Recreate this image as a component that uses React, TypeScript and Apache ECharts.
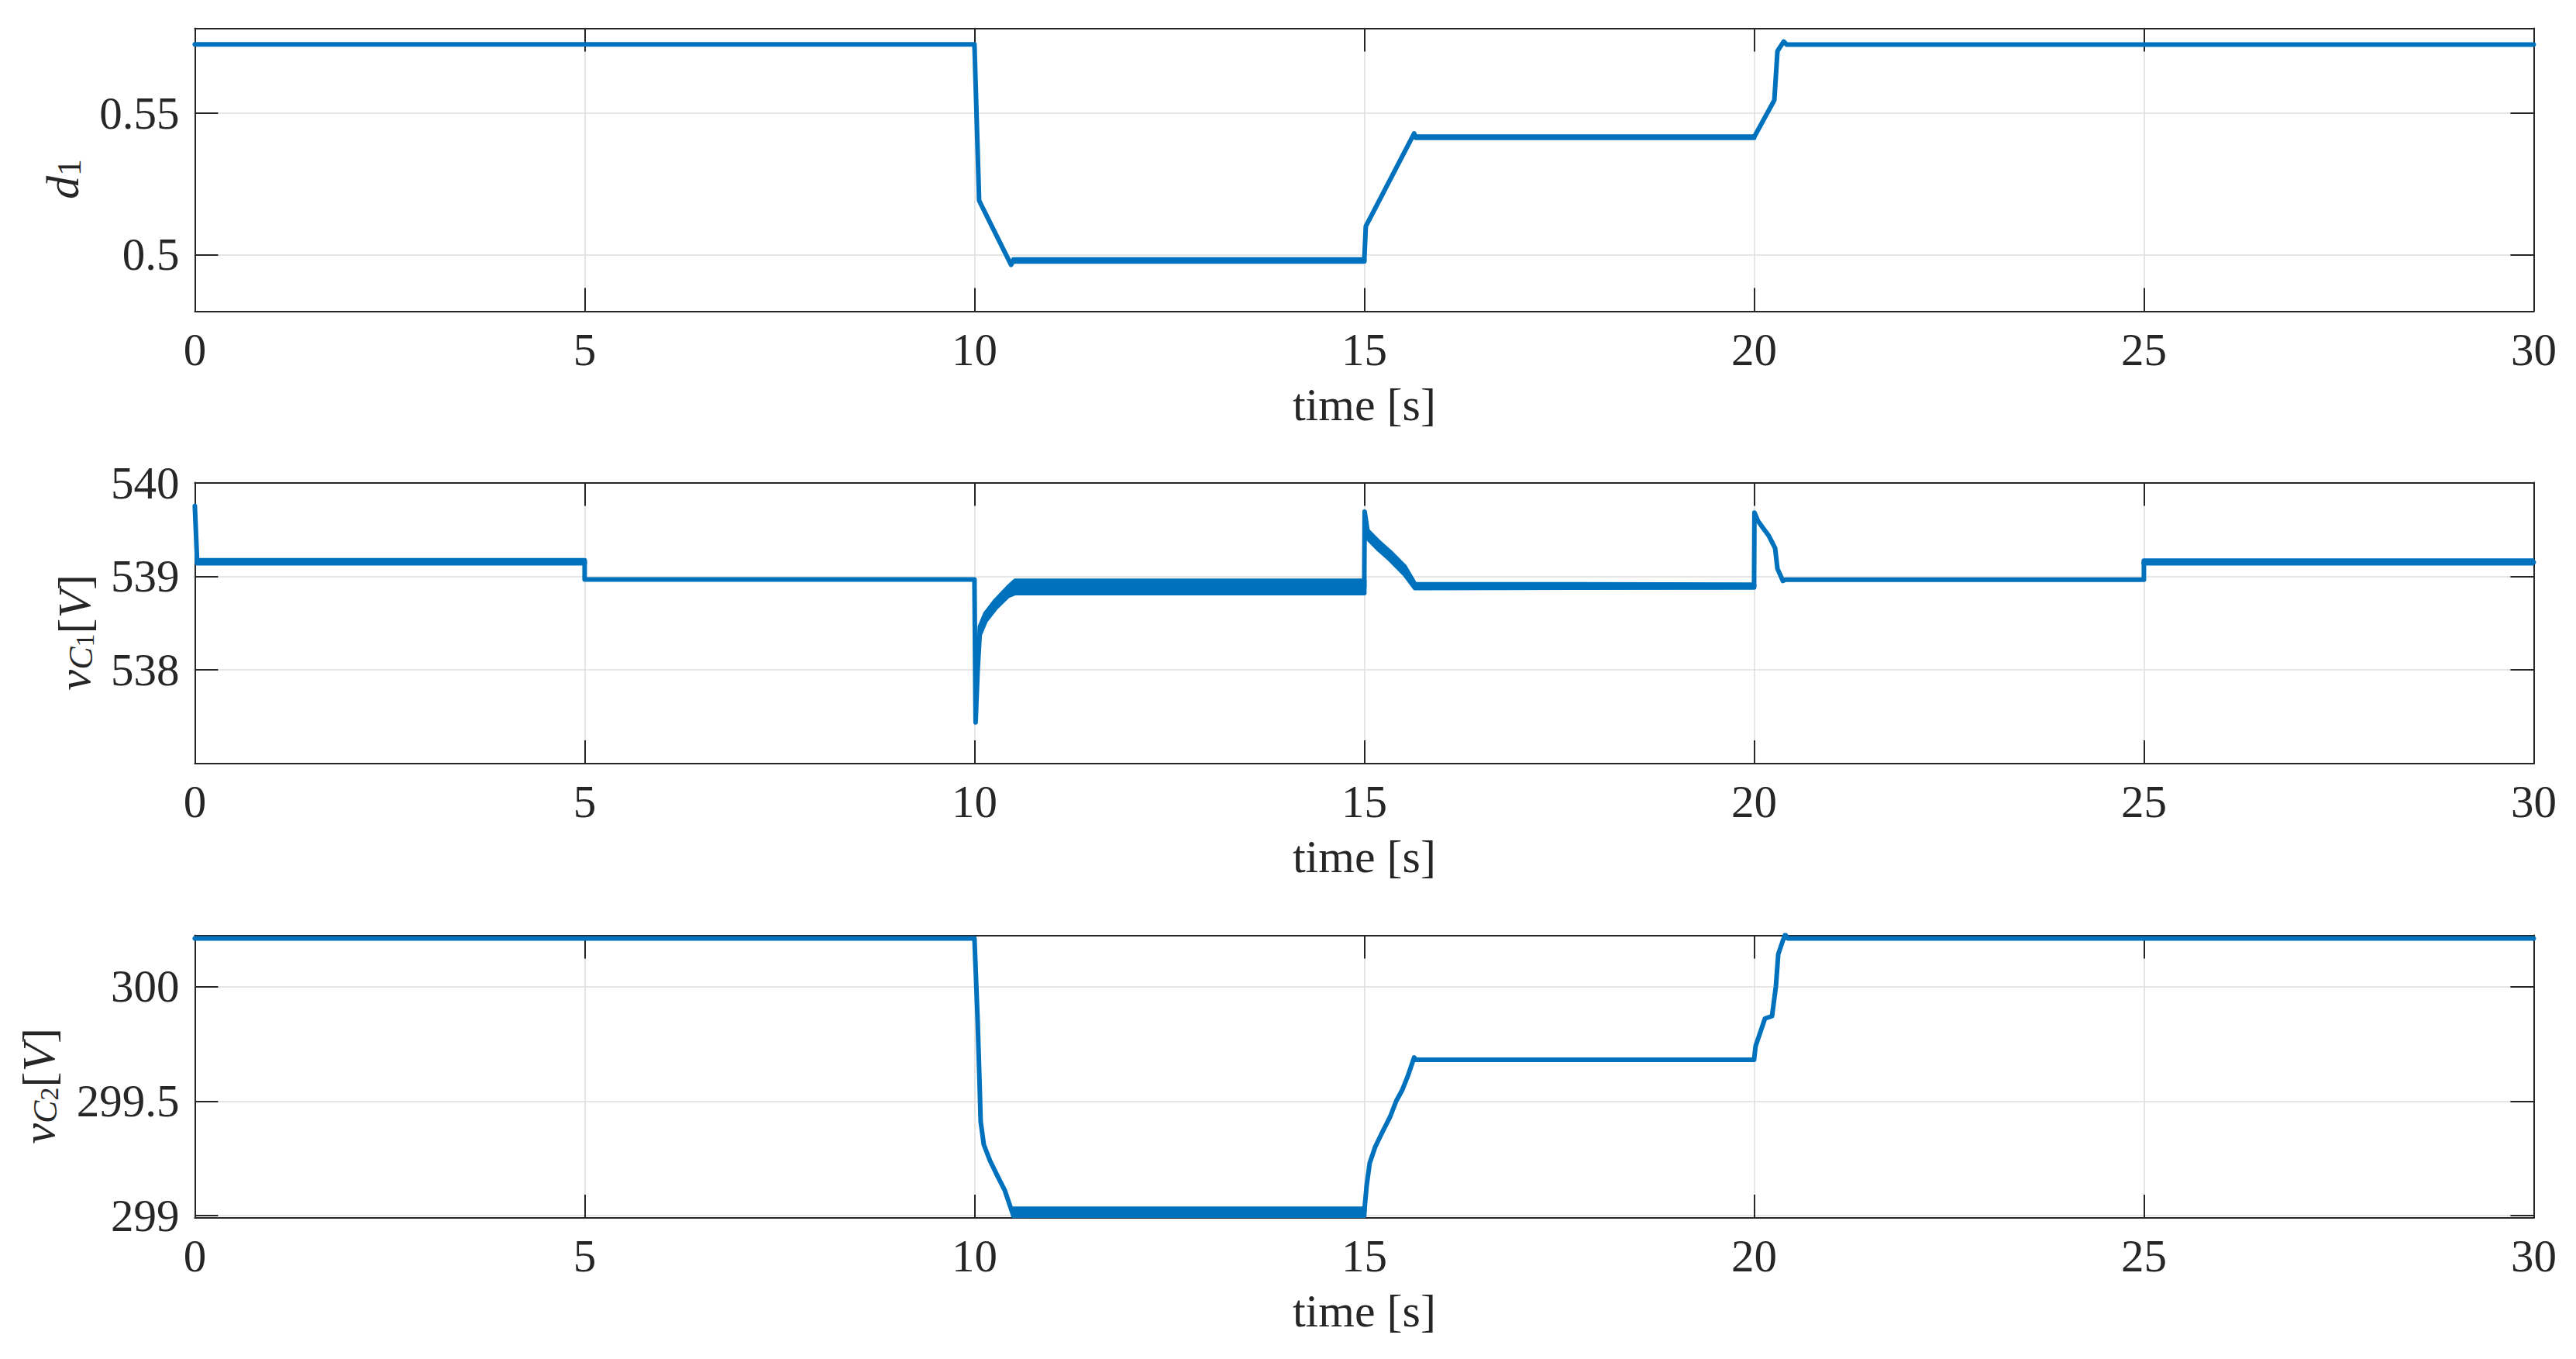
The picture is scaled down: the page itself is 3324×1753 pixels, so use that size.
import React, { useEffect, useRef } from 'react';
import * as echarts from 'echarts';

// ---------- data ----------
const TIME_TICKS = [0, 5, 10, 15, 20, 25, 30];

// d1
const d1Time = [0, 10.0, 10.06, 10.47, 10.5, 15.0, 15.02, 15.64, 15.66, 20.0, 20.26, 20.3, 20.38, 20.42, 30];
const d1Value = [0.5743, 0.5743, 0.5191, 0.4964, 0.4979, 0.4979, 0.51, 0.5428, 0.5415, 0.5415, 0.5546, 0.5719, 0.5753, 0.5742, 0.5742];
const d1RippleTime = [[10.5, 15.0], [15.66, 20.0]];
const d1RippleLow = [[0.4976, 0.4976], [0.5413, 0.5413]];
const d1RippleHigh = [[0.4983, 0.4983], [0.5417, 0.5417]];
const d1Ticks = [0.5, 0.55];

// vC1
const vc1Time = [0, 0.03, 5.0, 5.0, 10.0, 10.015, 10.04, 10.07, 10.14, 10.27, 10.43, 10.52, 15.0, 15.005, 15.05, 15.18, 15.33, 15.52, 15.65, 20.0, 20.005, 20.05, 20.12, 20.19, 20.27, 20.3, 20.37, 20.4, 25.0, 25.0, 30];
const vc1Value = [539.75, 539.155, 539.155, 538.965, 538.965, 537.44, 537.98, 538.42, 538.56, 538.7, 538.83, 538.884, 538.884, 539.69, 539.44, 539.33, 539.22, 539.06, 538.895, 538.895, 539.68, 539.59, 539.51, 539.43, 539.3, 539.08, 538.95, 538.964, 538.964, 539.15, 539.15];
const vc1RippleTime = [[0.03, 5.0], [10.07, 10.14, 10.27, 10.43, 10.52, 15.0], [15.05, 15.18, 15.33, 15.52, 15.65, 20.0], [25.0, 30]];
const vc1RippleLow = [[539.14, 539.14], [538.38, 538.52, 538.66, 538.79, 538.82, 538.82], [539.4, 539.29, 539.18, 539.02, 538.875, 538.88], [539.14, 539.14]];
const vc1RippleHigh = [[539.17, 539.17], [538.46, 538.6, 538.74, 538.88, 538.95, 538.95], [539.48, 539.37, 539.26, 539.1, 538.915, 538.91], [539.165, 539.165]];
const vc1Ticks = [538, 539, 540];

// vC2
const vc2Time = [0, 10.0, 10.04, 10.06, 10.08, 10.12, 10.2, 10.3, 10.39, 10.45, 10.5, 15.0, 15.03, 15.07, 15.14, 15.24, 15.33, 15.41, 15.49, 15.56, 15.64, 15.66, 20.0, 20.02, 20.08, 20.14, 20.23, 20.28, 20.31, 20.37, 20.4, 20.43, 30];
const vc2Value = [300.209, 300.209, 299.86, 299.64, 299.41, 299.31, 299.24, 299.17, 299.11, 299.05, 299.0, 299.015, 299.13, 299.23, 299.3, 299.37, 299.43, 299.5, 299.55, 299.61, 299.69, 299.68, 299.68, 299.74, 299.8, 299.86, 299.87, 300.0, 300.14, 300.2, 300.225, 300.209, 300.209];
const vc2RippleTime = [[10.5, 15.0]];
const vc2RippleLow = [[299.0, 299.0]];
const vc2RippleHigh = [[299.03, 299.03]];
const vc2Ticks = [299, 299.5, 300];

// ---------- styles ----------
const BLUE = '#0072BD';
const AXIS = '#262626';
const GRIDC = '#dedede';
const FONT = "'Liberation Serif', 'Times New Roman', serif";
const LW = 6;

const nameRich = {
  i: { fontFamily: FONT, fontStyle: 'italic', fontSize: 60, lineHeight: 60, color: AXIS },
  r: { fontFamily: FONT, fontSize: 60, lineHeight: 60, color: AXIS },
  sub: { fontFamily: FONT, fontSize: 44, lineHeight: 24, verticalAlign: 'bottom', color: AXIS },
  subi: { fontFamily: FONT, fontStyle: 'italic', fontSize: 44, lineHeight: 24, verticalAlign: 'bottom', color: AXIS },
  subsub: { fontFamily: FONT, fontSize: 34, lineHeight: 2, verticalAlign: 'bottom', color: AXIS },
};

const panels = [
  { top: 36.4, height: 365.1, min: 0.48, max: 0.58, ticks: d1Ticks, name: '{i|d}{sub|1}', nameGap: 140,
    time: d1Time, value: d1Value, rt: d1RippleTime, rl: d1RippleLow, rh: d1RippleHigh },
  { top: 622.5, height: 362.4, min: 537, max: 540, ticks: vc1Ticks, name: '{i|v}{subi|C}{subsub|1}{r|[}{i|V}{r|]}', nameGap: 125,
    time: vc1Time, value: vc1Value, rt: vc1RippleTime, rl: vc1RippleLow, rh: vc1RippleHigh },
  { top: 1206.6, height: 364.3, min: 298.991, max: 300.222, ticks: vc2Ticks, name: '{i|v}{subi|C}{subsub|2}{r|[}{i|V}{r|]}', nameGap: 171,
    time: vc2Time, value: vc2Value, rt: vc2RippleTime, rl: vc2RippleLow, rh: vc2RippleHigh },
];

function buildOption() {
  const grid: any[] = [];
  const xAxis: any[] = [];
  const yAxis: any[] = [];
  const series: any[] = [];
  const tickStyle = { color: AXIS, width: 2 };
  panels.forEach((p, i) => {
    grid.push({ left: 251.4, width: 3018, top: p.top, height: p.height, containLabel: false, outerBoundsMode: 'none' });
    xAxis.push({
      type: 'value', gridIndex: i, position: 'bottom', min: TIME_TICKS[0], max: TIME_TICKS[TIME_TICKS.length - 1], interval: 5,
      axisLine: { show: true, onZero: false, lineStyle: tickStyle },
      axisTick: { show: true, inside: true, length: 30, lineStyle: tickStyle },
      axisLabel: { show: true, margin: 19.5, fontSize: 59, lineHeight: 59, fontFamily: FONT, color: AXIS },
      splitLine: { show: true, lineStyle: { color: GRIDC, width: 1.5 } },
      name: 'time [s]', nameLocation: 'middle', nameGap: 90,
      nameTextStyle: { fontSize: 60, lineHeight: 60, fontFamily: FONT, color: AXIS },
    });
    xAxis.push({
      type: 'value', gridIndex: i, position: 'top', min: TIME_TICKS[0], max: TIME_TICKS[TIME_TICKS.length - 1], interval: 5,
      axisLine: { show: true, onZero: false, lineStyle: tickStyle },
      axisTick: { show: true, inside: true, length: 30, lineStyle: tickStyle },
      axisLabel: { show: false },
      splitLine: { show: false },
    });
    yAxis.push({
      type: 'value', gridIndex: i, position: 'left', min: p.min, max: p.max,
      axisLine: { show: true, onZero: false, lineStyle: tickStyle },
      axisTick: { show: true, inside: true, length: 30, lineStyle: tickStyle, customValues: p.ticks },
      axisLabel: {
        show: true, customValues: p.ticks, margin: 20, fontSize: 59, lineHeight: 59, fontFamily: FONT, color: AXIS,
        padding: [0, 0, 10, 0],
        formatter: (v: number) => String(+Number(v).toFixed(4)),
      },
      splitLine: { show: true, lineStyle: { color: GRIDC, width: 1.5 } },
      name: p.name, nameLocation: 'middle', nameGap: p.nameGap,
      nameTextStyle: { fontSize: 60, lineHeight: 60, fontFamily: FONT, color: AXIS, rich: nameRich, padding: [0, 24, 0, 0] },
    });
    yAxis.push({
      type: 'value', gridIndex: i, position: 'right', min: p.min, max: p.max,
      axisLine: { show: true, onZero: false, lineStyle: tickStyle },
      axisTick: { show: true, inside: true, length: 30, lineStyle: tickStyle, customValues: p.ticks },
      axisLabel: { show: false },
      splitLine: { show: false },
    });

    // ripple envelope: one polygon per segment, built from the low/high arrays
    const rt = p.rt, rl = p.rl, rh = p.rh;
    series.push({
      type: 'custom', xAxisIndex: i * 2, yAxisIndex: i * 2, silent: true, clip: true, z: 2,
      data: rt.map((seg, s) => [seg[0], rl[s][0], s]),
      encode: { x: 0, y: 1 },
      renderItem: (params: any, api: any) => {
        const s = api.value(2);
        const top = rt[s].map((t, k) => api.coord([t, rh[s][k]]));
        const bottom = rt[s].map((t, k) => api.coord([t, rl[s][k]])).reverse();
        return {
          type: 'polygon',
          shape: { points: top.concat(bottom) },
          style: { fill: BLUE, stroke: BLUE, lineWidth: LW, lineJoin: 'round' },
        };
      },
    });
    series.push({
      type: 'line', xAxisIndex: i * 2, yAxisIndex: i * 2, silent: true,
      data: p.time.map((t, k) => [t, p.value[k]]), showSymbol: false, symbol: 'none', z: 3,
      lineStyle: { color: BLUE, width: LW, cap: 'round', join: 'round' },
    });
  });
  return { animation: false, backgroundColor: '#ffffff', grid, xAxis, yAxis, series };
}

export default function App() {
  const ref = useRef<HTMLDivElement>(null);
  useEffect(() => {
    if (!ref.current) return;
    const chart = echarts.init(ref.current, null, { renderer: 'svg' });
    chart.setOption(buildOption() as any);
    return () => chart.dispose();
  }, []);
  return (
    <div
      ref={ref}
      style={{ position: 'absolute', left: 0, top: 0, width: '3324px', height: '1753px', background: '#fff' }}
    />
  );
}
